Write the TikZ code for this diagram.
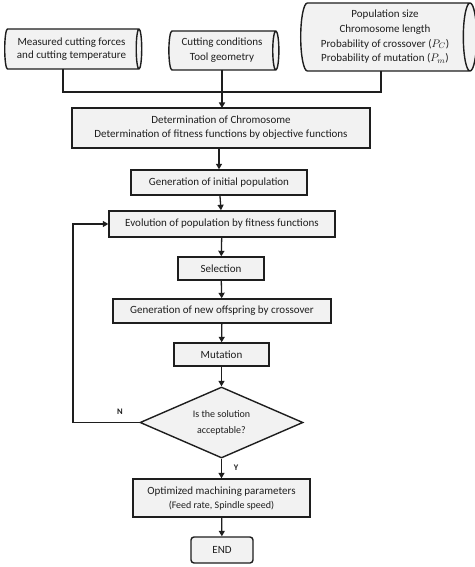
\documentclass[tikz,border=0pt]{standalone}
\usepackage{fontspec}
\setmainfont{Carlito}
\usetikzlibrary{shapes.geometric,arrows.meta}
\definecolor{boxfill}{HTML}{F2F2F2}
\definecolor{edge}{HTML}{1E1E1E}
\begin{document}
\begin{tikzpicture}[x=1pt,y=-1pt,
  txt/.style={font=\fontsize{11}{14}\selectfont, text=edge},
  box/.style={txt, draw=edge, line width=1.4pt, fill=boxfill, inner sep=0pt, align=center},
  cyl/.style={txt, cylinder, shape border rotate=0, draw=edge, line width=1.4pt,
    cylinder uses custom fill, cylinder body fill=boxfill, cylinder end fill=boxfill,
    inner sep=0pt, align=center},
  link/.style={draw=edge, line width=1.3pt},
  arr/.style={link, -{Triangle[length=5.5pt,width=6pt]}},
  lab/.style={font=\fontsize{8.5}{10}\selectfont\bfseries, text=edge}]
\useasboundingbox (0,0) rectangle (474,567);
\fill[white] (0,0) rectangle (474,567);

\node[cyl, minimum height=137pt, minimum width=40pt, aspect=0.25,
  font=\fontsize{11}{12.5}\selectfont] (c1) at (71.5,49)
  {Measured cutting forces\\and cutting temperature};
\node[cyl, minimum height=110pt, minimum width=39pt, aspect=0.25,
  font=\fontsize{11}{15}\selectfont] (c2) at (222,50.5)
  {Cutting conditions\\Tool geometry};
\node[cyl, minimum height=176pt, minimum width=68pt, aspect=0.25,
  font=\fontsize{11}{14.7}\selectfont] (c3) at (385,37)
  {Population size\\Chromosome length\\Probability of crossover ($P_C$)\\Probability of mutation ($P_m$)};

\node[box, minimum width=298pt, minimum height=40pt] (det) at (221,128)
  {Determination of Chromosome\\Determination of fitness functions by objective functions};
\node[box, minimum width=176pt, minimum height=25pt] (init) at (219,182.5)
  {Generation of initial population};
\node[box, minimum width=226pt, minimum height=26pt] (evol) at (222,224)
  {Evolution of population by fitness functions};
\node[box, minimum width=86pt, minimum height=23pt] (sel) at (221,268.5)
  {Selection};
\node[box, minimum width=218pt, minimum height=24pt] (cross) at (222,311)
  {Generation of new offspring by crossover};
\node[box, minimum width=95pt, minimum height=23pt] (mut) at (221.5,354.5)
  {Mutation};
\node[box, diamond, aspect=2.3, minimum width=163pt, minimum height=71pt,
  font=\fontsize{10}{16}\selectfont] (dec) at (221.5,422.5)
  {Is the solution\\acceptable?};
\node[box, minimum width=177pt, minimum height=38pt] (opt) at (221.5,498)
  {Optimized machining parameters\\{\fontsize{10}{12}\selectfont(Feed rate, Spindle speed)}};
\node[box, rounded corners=3pt, minimum width=62pt, minimum height=26pt] (end) at (222,550)
  {END};

\coordinate (c1b) at (63,69);
\coordinate (c3b) at (381,71);
\coordinate (j1) at (63,92);
\coordinate (j3) at (381,92);
\coordinate (c2b) at (222,70);
\coordinate (dett) at (222,108);
\draw[link] (c1b) -- (j1) -- (j3) -- (c3b);
\draw[arr] (c2b) -- (dett);

\draw[arr] (det.south -| init.north) -- (init.north);
\draw[arr] (init) -- (evol);
\draw[arr] (evol) -- (sel);
\draw[arr] (sel) -- (cross);
\draw[arr] (cross) -- (mut);
\draw[arr] (mut) -- (dec);
\draw[arr] (dec) -- (opt);
\draw[arr] (opt) -- (end);

\coordinate (lp) at (73,422.5);
\draw[arr] (dec.west) -- (lp) |- (evol.west);
\node[lab] (n) at (120,412) {N};
\node[lab] (y) at (236,468) {Y};
\end{tikzpicture}
\end{document}
